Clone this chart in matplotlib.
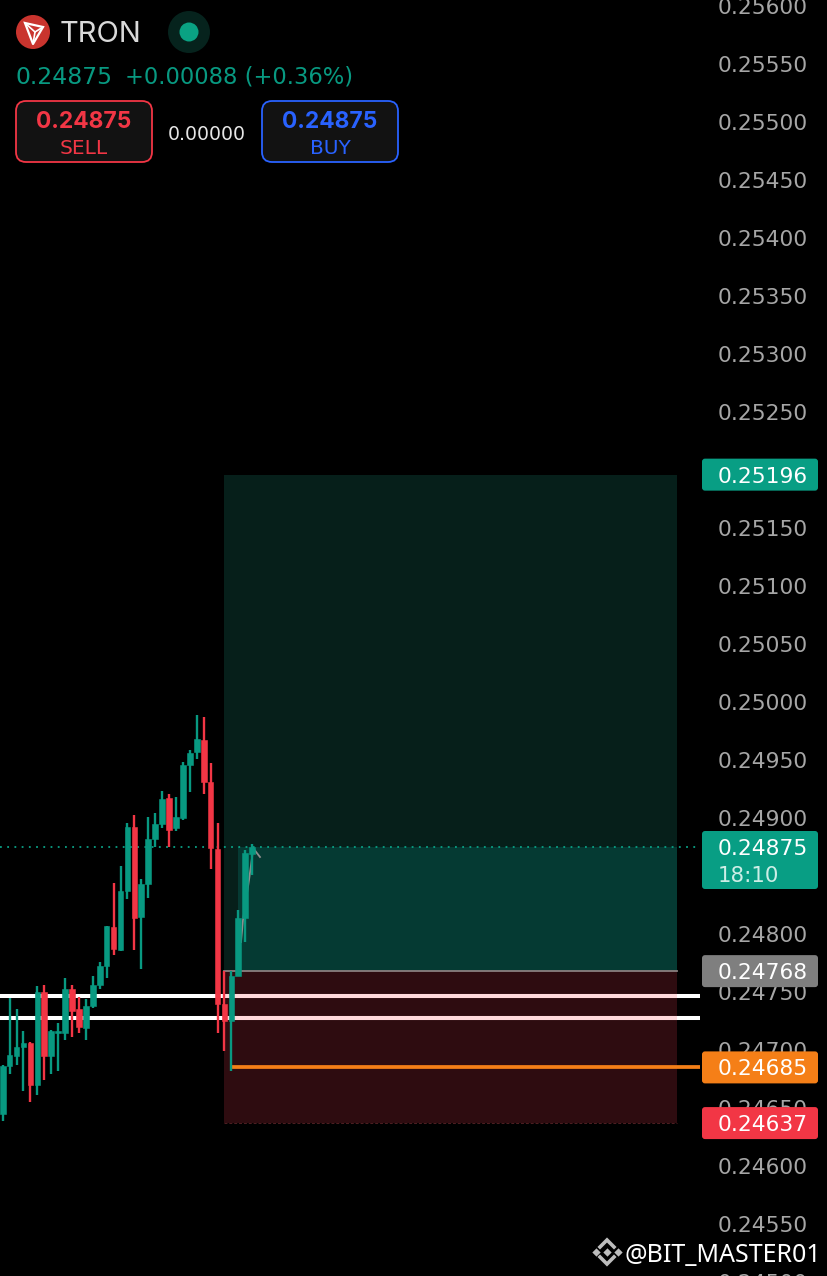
import matplotlib
matplotlib.use('Agg')
import matplotlib.pyplot as plt
from matplotlib.patches import Circle, FancyBboxPatch, Rectangle, Polygon

# candles, left to right
opens = [.24645, .24686, .24695, .24703, .24706, .24670, .24750, .24695, .24715, .24715,
         .24753, .24735, .24719, .24738, .24756, .24772, .24806, .24786, .24837, .24892,
         .24815, .24843, .24882, .24895, .24917, .24891, .24900, .24946, .24957, .24967,
         .24931, .24873, .24740, .24725, .24764, .24814, .24869]
closes = [.24686, .24696, .24703, .24706, .24670, .24750, .24695, .24716, .24716, .24753,
          .24734, .24720, .24738, .24756, .24772, .24807, .24787, .24837, .24892, .24814,
          .24843, .24882, .24895, .24916, .24890, .24901, .24946, .24956, .24968, .24931,
          .24874, .24740, .24725, .24764, .24814, .24870, .24875]
highs = [.24687, .24745, .24735, .24716, .24707, .24755, .24756, .24717, .24723, .24762,
         .24756, .24746, .24744, .24764, .24776, .24807, .24844, .24859, .24896, .24903,
         .24847, .24901, .24904, .24923, .24921, .24918, .24948, .24959, .24989, .24987,
         .24947, .24896, .24768, .24768, .24821, .24872, .24878]
lows = [.24639, .24679, .24687, .24665, .24655, .24661, .24674, .24679, .24682, .24709,
        .24711, .24715, .24709, .24736, .24753, .24762, .24782, .24785, .24830, .24786,
        .24770, .24831, .24875, .24891, .24875, .24889, .24898, .24922, .24951, .24921,
        .24856, .24715, .24699, .24682, .24764, .24793, .24851]

# price levels
price_ticks = [.2455, .2460, .2465, .2470, .2475, .2480, .2485, .2490, .2495, .2500, .2505,
               .2510, .2515, .2520, .2525, .2530, .2535, .2540, .2545, .2550, .2555, .2560]
last_price = .24875
target = .25196
entry = .24768
stop = .24637
order_line = .24685
white_levels = [.247466, .247276]

GREEN = '#089981'
RED = '#f23645'
BLUE = '#2962ff'
ORANGE = '#f57f17'
GRAY = '#a6a6a6'
FONT = ['Inter', 'DejaVu Sans']
NUM = ['DejaVu Sans']  # tabular digits, same width as the app's axis

W, H = 828, 1276
PX_PER_BAR = 6.93
X0 = 2.7
PX_PER_PRICE = 116000
Y_REF = 64  # pixel row of .2555


def bx(px):
    return (px - X0) / PX_PER_BAR


def py(price):
    return Y_REF + (.2555 - price) * PX_PER_PRICE


def pp(row):
    return .2555 - (row - Y_REF) / PX_PER_PRICE


fig = plt.figure(figsize=(W / 100, H / 100), dpi=100, facecolor='black')
ax = fig.add_axes([0, 0, 1, 1], facecolor='black')
ax.set_xlim(bx(0), bx(W))
ax.set_ylim(pp(H), pp(0))
for s in ax.spines.values():
    s.set_visible(False)
ax.xaxis.set_visible(False)
ax.yaxis.tick_right()
ax.set_yticks(price_ticks)
ax.set_yticklabels(['%.5f' % p for p in price_ticks], ha='right', fontsize=15.7, color=GRAY, family=NUM)
ax.tick_params(axis='y', length=0, pad=-14.4)

# long position box
x_left, x_right = bx(224), bx(677)
ax.add_patch(Rectangle((x_left, entry), x_right - x_left, target - entry, fc='#061f1a', ec='none', zorder=1))
ax.add_patch(Rectangle((bx(238), entry), x_right - bx(238), last_price - entry, fc='#053a33', ec='none', zorder=1))
ax.add_patch(Rectangle((x_left, stop), x_right - x_left, entry - stop, fc='#2e0c10', ec='none', zorder=1))
ax.plot([x_left, x_right], [entry, entry], color='#8a7f7f', lw=1.3, zorder=2)
ax.plot([x_left, x_right], [stop, stop], color='#4f1e22', lw=.7, ls=(0, (3, 2)), zorder=2)

ax.plot([bx(0), bx(700)], [last_price, last_price], color='#0aa085', lw=1.3, ls=(0, (1, 3)), zorder=2)

# horizontal levels, washed out a little over the box
for lv in white_levels:
    ax.plot([bx(0), bx(700)], [lv, lv], color='white', lw=2.9, zorder=2, solid_capstyle='butt')
    ax.plot([x_left, x_right], [lv, lv], color='#ffd9dc', lw=2.9, zorder=2, solid_capstyle='butt')

ax.plot([bx(231), bx(700)], [order_line, order_line], color=ORANGE, lw=2.7, zorder=3, solid_capstyle='butt')

# hand drawn arrow behind the last candles
arrow_x = [bx(v) for v in [241, 243, 249, 252, 253, 260]]
arrow_y = [pp(v) for v in [942, 920, 880, 858, 848, 857]]
ax.plot(arrow_x, arrow_y, color='#8f8f8f', lw=1.3, zorder=3)

# candles
for i in range(len(opens)):
    col = GREEN if closes[i] >= opens[i] else RED
    ax.vlines(i, lows[i], highs[i], color=col, lw=1.7, zorder=4)
    ax.bar(i, abs(closes[i] - opens[i]), bottom=min(opens[i], closes[i]), width=.82, color=col, edgecolor=col, lw=.4, zorder=4)

# pixel layer for the header and the price tags
ui = fig.add_axes([0, 0, 1, 1], facecolor='none')
ui.set_xlim(0, W)
ui.set_ylim(H, 0)
ui.axis('off')


def txt(x, y, s, size, color, ha='center', weight='normal', family=FONT):
    ui.text(x, y, s, fontsize=size, color=color, ha=ha, va='center_baseline', fontweight=weight, family=family)


# price tags
def tag(price, label, color, extra=None):
    top = py(price) - 16
    h = 58 if extra else 32
    ui.add_patch(FancyBboxPatch((702, top), 116, h, boxstyle='round,pad=0,rounding_size=3', fc=color, ec='none'))
    txt(763, py(price), label, 15.7, 'white', family=NUM)
    if extra:
        txt(718, py(price) + 27, extra, 15.3, '#cdeee6', ha='left', family=NUM)


tag(target, '%.5f' % target, '#089e84')
tag(last_price, '%.5f' % last_price, '#089e84', extra='18:10')
tag(entry, '%.5f' % entry, '#7f7f7f')
tag(order_line, '%.5f' % order_line, ORANGE)
tag(stop, '%.5f' % stop, RED)
txt(763, py(.245), '0.24500', 15.7, GRAY, family=NUM)

# header
ui.add_patch(Circle((33, 32), 17, fc='#c9342e', ec='none'))
ui.add_patch(Polygon([[25, 23], [43, 27], [33, 44]], closed=True, fc='none', ec='white', lw=1.6))
ui.plot([25, 35, 33], [23, 32, 44], color='white', lw=1.2)
ui.plot([35, 43], [32, 27], color='white', lw=1.2)
txt(60, 32, 'TRON', 21, '#d9d9d9', ha='left')
ui.add_patch(Circle((189, 32), 21, fc='#06231d', ec='none'))
ui.add_patch(Circle((189, 32), 9.5, fc='#0aa283', ec='none'))
txt(16, 75, '0.24875', 16.9, GREEN, ha='left', family=NUM)
txt(125, 75, '+0.00088 (+0.36%)', 16.3, GREEN, ha='left', family=NUM)

for x0, col, price, word in [(16, RED, '0.24875', 'SELL'), (262, BLUE, '0.24875', 'BUY')]:
    ui.add_patch(FancyBboxPatch((x0, 101), 136, 61, boxstyle='round,pad=0,rounding_size=10', fc='#121212', ec=col, lw=1.3))
    txt(x0 + 68, 120, price, 16.4, col, weight='bold')
    txt(x0 + 68, 147, word, 14.5, col, family=NUM)
txt(207, 132, '0.00000', 13.6, '#e6e6e6', family=NUM)

# watermark, binance mark
LOGO = '#bdbdbd'
ui.plot([600, 607, 614], [1247, 1240, 1247], color=LOGO, lw=2.6, solid_joinstyle='miter')
ui.plot([600, 607, 614], [1257, 1264, 1257], color=LOGO, lw=2.6, solid_joinstyle='miter')
for dx in (-11, 0, 11):
    ui.scatter(607 + dx, 1252, marker='D', s=18, color=LOGO, linewidths=0)
txt(625, 1253, '@BIT_MASTER01', 18, 'white', ha='left', family=['Noto Sans', 'DejaVu Sans'])

fig.savefig('out.png', dpi=100, facecolor='black')
